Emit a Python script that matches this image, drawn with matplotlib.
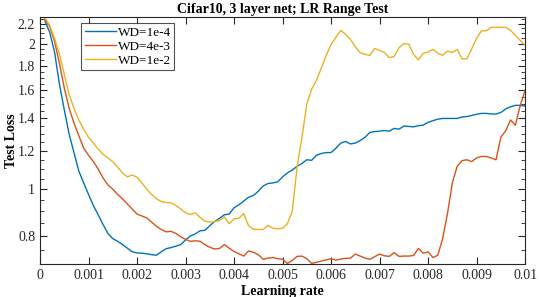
import matplotlib
matplotlib.use("Agg")
import matplotlib.pyplot as plt
from matplotlib.ticker import FixedLocator, FormatStrFormatter, NullFormatter
import numpy as np

plt.rcParams["font.family"] = ["Liberation Serif", "DejaVu Serif"]

# learning rate grid (0.0001 .. 0.01)
lr = np.round(np.arange(1, 101) * 1e-4, 5)

loss_wd_1e4 = [
    2.23, 2.11, 1.92, 1.65, 1.46, 1.30, 1.19, 1.09, 1.03, 0.975,
    0.925, 0.885, 0.845, 0.81, 0.79, 0.78, 0.768, 0.755, 0.742, 0.738,
    0.737, 0.735, 0.732, 0.730, 0.742, 0.753, 0.757, 0.762, 0.768, 0.785,
    0.800, 0.808, 0.820, 0.822, 0.840, 0.857, 0.870, 0.885, 0.888, 0.915,
    0.928, 0.945, 0.962, 0.970, 0.990, 1.015, 1.027, 1.030, 1.035, 1.060,
    1.080, 1.095, 1.115, 1.130, 1.150, 1.147, 1.175, 1.185, 1.190, 1.190,
    1.215, 1.245, 1.255, 1.240, 1.245, 1.260, 1.280, 1.310, 1.315, 1.318,
    1.322, 1.318, 1.335, 1.330, 1.350, 1.348, 1.345, 1.353, 1.356, 1.375,
    1.385, 1.395, 1.400, 1.400, 1.400, 1.400, 1.410, 1.413, 1.420, 1.428,
    1.434, 1.434, 1.430, 1.430, 1.440, 1.465, 1.480, 1.490, 1.490, 1.485,
]

loss_wd_4e3 = [
    2.25, 2.17, 2.02, 1.82, 1.62, 1.47, 1.37, 1.29, 1.215, 1.175,
    1.14, 1.10, 1.055, 1.02, 1.00, 0.975, 0.955, 0.932, 0.910, 0.888,
    0.880, 0.872, 0.855, 0.838, 0.825, 0.816, 0.818, 0.810, 0.797, 0.787,
    0.780, 0.782, 0.780, 0.768, 0.758, 0.752, 0.754, 0.768, 0.755, 0.743,
    0.735, 0.727, 0.745, 0.740, 0.732, 0.716, 0.720, 0.722, 0.718, 0.716,
    0.702, 0.712, 0.726, 0.727, 0.718, 0.702, 0.706, 0.710, 0.714, 0.718,
    0.713, 0.717, 0.719, 0.720, 0.734, 0.727, 0.720, 0.716, 0.725, 0.734,
    0.728, 0.726, 0.739, 0.726, 0.727, 0.727, 0.729, 0.754, 0.737, 0.742,
    0.722, 0.730, 0.790, 0.890, 1.030, 1.115, 1.145, 1.150, 1.140, 1.160,
    1.168, 1.168, 1.160, 1.150, 1.280, 1.320, 1.390, 1.355, 1.490, 1.600,
]

loss_wd_1e2 = [
    2.26, 2.18, 2.05, 1.90, 1.73, 1.57, 1.47, 1.39, 1.33, 1.28,
    1.245, 1.21, 1.18, 1.16, 1.14, 1.11, 1.08, 1.06, 1.069, 1.058,
    1.03, 1.00, 0.975, 0.955, 0.943, 0.938, 0.937, 0.925, 0.910, 0.893,
    0.886, 0.893, 0.874, 0.858, 0.855, 0.856, 0.862, 0.876, 0.848, 0.868,
    0.870, 0.890, 0.840, 0.826, 0.825, 0.825, 0.842, 0.830, 0.828, 0.830,
    0.848, 0.900, 1.110, 1.280, 1.500, 1.610, 1.680, 1.780, 1.890, 1.990,
    2.060, 2.130, 2.090, 2.040, 1.970, 1.915, 1.900, 1.890, 1.954, 1.935,
    1.917, 1.870, 1.880, 1.960, 2.000, 1.995, 1.900, 1.850, 1.910, 1.920,
    1.945, 1.910, 1.890, 1.930, 1.917, 1.945, 1.860, 1.860, 1.950, 2.050,
    2.125, 2.125, 2.160, 2.160, 2.160, 2.160, 2.130, 2.080, 2.030, 1.985,
]

labels = ["WD=1e-4", "WD=4e-3", "WD=1e-2"]
colors = ["#0072BD", "#D95319", "#EDB120"]
yticks = [0.8, 1, 1.2, 1.4, 1.6, 1.8, 2, 2.2]
xticks = np.round(np.arange(0, 11) * 0.001, 3)

fig = plt.figure(figsize=(5.42, 2.97), dpi=100)
ax = fig.add_axes([0.0738, 0.111, 0.895, 0.832])

for ys, lab, c in zip([loss_wd_1e4, loss_wd_4e3, loss_wd_1e2], labels, colors):
    ax.plot(lr, ys, color=c, lw=1.0, label=lab)

ax.set_yscale("log")
ax.set_xlim(0, 0.01)
ax.set_ylim(0.70, 2.27)

ax.xaxis.set_major_locator(FixedLocator(xticks))
ax.xaxis.set_major_formatter(FormatStrFormatter("%g"))
ax.yaxis.set_major_locator(FixedLocator(yticks))
ax.yaxis.set_major_formatter(FormatStrFormatter("%g"))
ax.yaxis.set_minor_locator(FixedLocator(np.round(np.arange(0.70, 2.26, 0.05), 2)))
ax.yaxis.set_minor_formatter(NullFormatter())

ax.tick_params(which="both", direction="in", top=True, right=True,
               colors="#262626", labelsize=10)
ax.tick_params(which="major", length=5, width=0.8)
ax.tick_params(which="minor", length=3, width=0.6)
for s in ax.spines.values():
    s.set_color("#262626")
    s.set_linewidth(0.8)

ax.set_title("Cifar10, 3 layer net; LR Range Test", fontsize=10,
             fontweight="bold", pad=3)
ax.set_xlabel("Learning rate", fontsize=10, fontweight="bold", labelpad=2)
ax.set_ylabel("Test Loss", fontsize=10, fontweight="bold", labelpad=0)

leg = ax.legend(loc="upper left", bbox_to_anchor=(0.085, 0.975), fontsize=9.5,
                frameon=True, fancybox=False, borderpad=0.25, labelspacing=0.15,
                handlelength=2.4, handletextpad=0.1, borderaxespad=0)
leg.get_frame().set_edgecolor("#262626")
leg.get_frame().set_linewidth(0.8)

fig.savefig("out.png", dpi=100)
